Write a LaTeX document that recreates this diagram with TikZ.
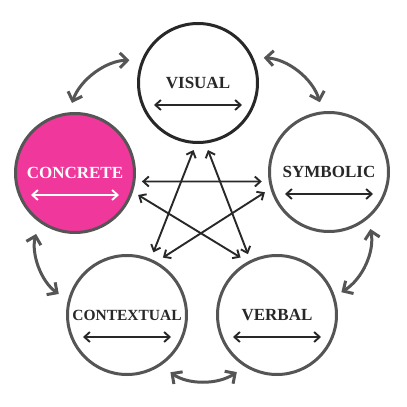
\documentclass[tikz,border=0pt]{standalone}
\usepackage{fontspec}
\setmainfont{Liberation Serif}
\usetikzlibrary{arrows.meta}

\definecolor{hotpink}{RGB}{240,55,155}
\definecolor{ringgray}{RGB}{85,85,85}
\definecolor{inkdark}{RGB}{40,40,40}

\tikzset{
  ring/.style={circle, draw=ringgray, line width=3pt, minimum size=119pt, inner sep=0pt,
    text=inkdark, font=\fontsize{17}{18}\selectfont\bfseries},
  starline/.style={{Straight Barb[length=5.5pt,width=10pt]}-{Straight Barb[length=5.5pt,width=10pt]},
    draw=inkdark, line width=1.9pt, line cap=round},
  innerline/.style={starline, draw=inkdark},
  loopline/.style={{Straight Barb[length=7.5pt,width=15pt]}-{Straight Barb[length=7.5pt,width=15pt]},
    draw=ringgray, line width=3pt, line cap=round, bend left=35}
}

\begin{document}
\begin{tikzpicture}[x=1pt,y=1pt]
  \useasboundingbox[fill=white] (0,0) rectangle (407,407);

  % the five circles
  \node[ring, draw=inkdark] (vis) at (198,324) {VISUAL};
  \node[ring] (sym) at (329,235) {SYMBOLIC};
  \node[ring] (verb) at (277,92) {VERBAL};
  \node[ring, font=\fontsize{15.5}{18}\selectfont\bfseries] (ctx) at (127,92) {CONTEXTUAL};
  \node[ring, fill=hotpink, text=white] (con) at (75,234) {CONCRETE};

  % arrows inside the circles
  \foreach \n in {vis,sym,verb,ctx}
    \draw[innerline] ([shift={(-44,-22)}]\n.center) -- ([shift={(44,-22)}]\n.center);
  \draw[innerline, draw=white] ([shift={(-44,-22)}]con.center) -- ([shift={(44,-22)}]con.center);

  % star in the middle
  \draw[starline, shorten <=6.5pt, shorten >=7pt] (vis.-92) -- (ctx.67.5);
  \draw[starline, shorten <=7pt, shorten >=6.5pt] (vis.-83) -- (verb.116);
  \draw[starline, shorten <=6.5pt, shorten >=7pt] (con.-8.6) -- (sym.189.6);
  \draw[starline, shorten <=6pt, shorten >=8pt] (con.-18) -- (verb.119);
  \draw[starline, shorten <=6.5pt, shorten >=7.5pt] (sym.196) -- (ctx.61);

  % arrows round the outside
  \draw[loopline, shorten <=10pt, shorten >=12pt] (con.96) to (vis.158);
  \draw[loopline, shorten <=10.5pt, shorten >=9.5pt] (vis.25) to (sym.96.5);
  \draw[loopline, shorten <=10.5pt, shorten >=7.5pt] (sym.-50) to (verb.18.7);
  \draw[loopline, shorten <=9.5pt, shorten >=11.5pt] (verb.238) to (ctx.-56);
  \draw[loopline, shorten <=11pt, shorten >=12pt] (ctx.166) to (con.234);
\end{tikzpicture}
\end{document}
